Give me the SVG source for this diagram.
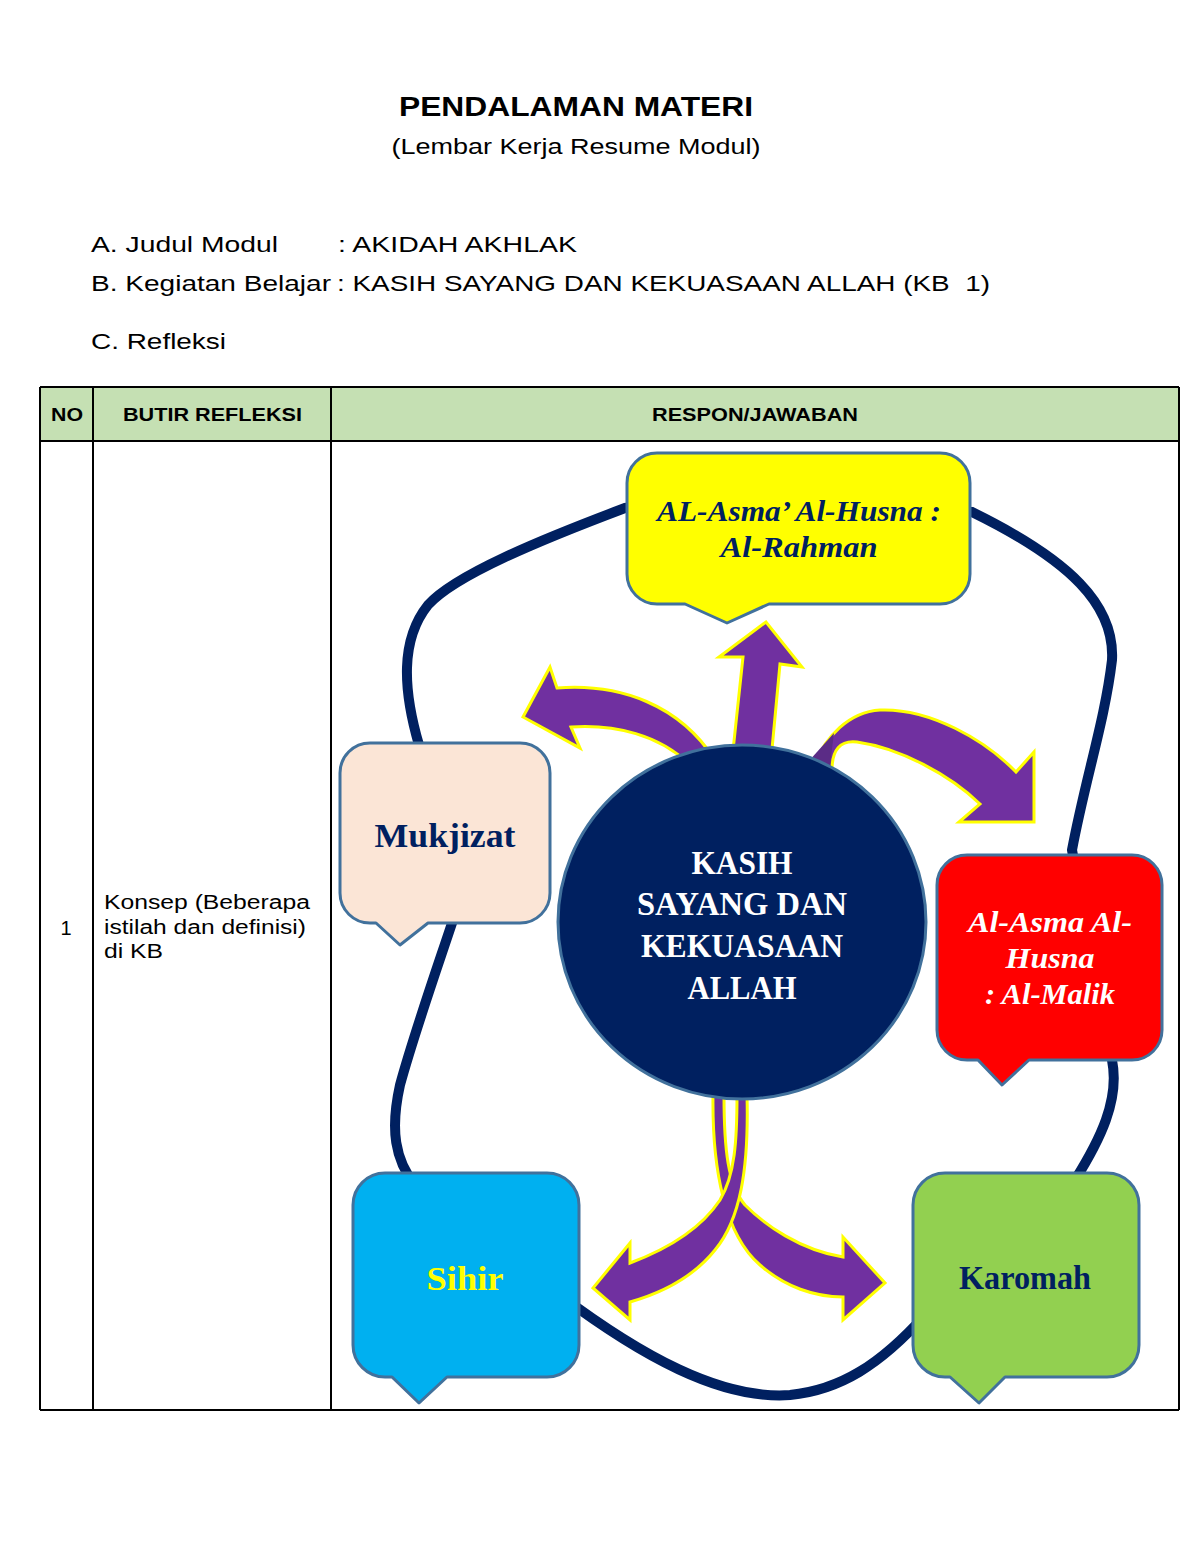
<svg xmlns="http://www.w3.org/2000/svg" width="1200" height="1553" viewBox="0 0 1200 1553">
<style>
.sans{font-family:"Liberation Sans",Arial,sans-serif;fill:#000}
.hd{font-family:"Liberation Sans",Arial,sans-serif;font-weight:bold;font-size:19px;fill:#000}
.ser{font-family:"Liberation Serif","DejaVu Serif",serif;font-weight:bold}
.bub{stroke:#41719C;stroke-width:3;stroke-linejoin:round}
.arr{fill:#7030A0;stroke:#FFFF00;stroke-width:3;stroke-linejoin:miter}
.tl{stroke:#000;stroke-width:2;fill:none}
</style>
<rect width="1200" height="1553" fill="#fff"/>
<g id="header-text">
<text class="sans" x="576" y="116" font-size="27" font-weight="bold" text-anchor="middle" textLength="354" lengthAdjust="spacingAndGlyphs">PENDALAMAN MATERI</text>
<text class="sans" x="576" y="154" font-size="22" text-anchor="middle" textLength="369" lengthAdjust="spacingAndGlyphs">(Lembar Kerja Resume Modul)</text>
<text class="sans" x="91" y="252" font-size="22" textLength="187" lengthAdjust="spacingAndGlyphs">A. Judul Modul</text>
<text class="sans" x="338" y="252" font-size="22" textLength="239" lengthAdjust="spacingAndGlyphs">: AKIDAH AKHLAK</text>
<text class="sans" x="91" y="291" font-size="22" textLength="240" lengthAdjust="spacingAndGlyphs">B. Kegiatan Belajar</text>
<text class="sans" x="337" y="291" font-size="22" textLength="653" lengthAdjust="spacingAndGlyphs">: KASIH SAYANG DAN KEKUASAAN ALLAH (KB &#160;1)</text>
<text class="sans" x="91" y="349" font-size="22" textLength="135" lengthAdjust="spacingAndGlyphs">C. Refleksi</text>
</g>
<g id="table">
<rect x="40" y="387" width="1139" height="54" fill="#C5E0B3"/>
<line class="tl" x1="40" y1="387" x2="1179" y2="387"/>
<line class="tl" x1="40" y1="441" x2="1179" y2="441" stroke-width="3"/>
<line class="tl" x1="40" y1="1410" x2="1179" y2="1410"/>
<line class="tl" x1="40" y1="387" x2="40" y2="1410"/>
<line class="tl" x1="93" y1="387" x2="93" y2="1410"/>
<line class="tl" x1="331" y1="387" x2="331" y2="1410"/>
<line class="tl" x1="1179" y1="387" x2="1179" y2="1410"/>
<text class="hd" x="67" y="421" text-anchor="middle" textLength="32" lengthAdjust="spacingAndGlyphs">NO</text>
<text class="hd" x="123" y="421" textLength="179" lengthAdjust="spacingAndGlyphs">BUTIR REFLEKSI</text>
<text class="hd" x="755" y="421" text-anchor="middle" textLength="206" lengthAdjust="spacingAndGlyphs">RESPON/JAWABAN</text>
<text class="sans" x="66" y="935" font-size="20" text-anchor="middle">1</text>
<text class="sans" x="104" y="909" font-size="20" textLength="206" lengthAdjust="spacingAndGlyphs">Konsep (Beberapa</text>
<text class="sans" x="104" y="934" font-size="20" textLength="202" lengthAdjust="spacingAndGlyphs">istilah dan definisi)</text>
<text class="sans" x="104" y="958" font-size="20" textLength="59" lengthAdjust="spacingAndGlyphs">di KB</text>
</g>
<g id="connectors">
<path d="M 700,500 L 625,508 C 540,540 455,575 428,605 C 400,640 403,690 419,745 L 440,830 L 458,905 C 440,960 415,1030 400,1085 C 390,1130 395,1160 415,1185 L 560,1295 C 640,1355 720,1400 790,1395 C 840,1390 880,1365 925,1315 L 1075,1180 C 1100,1140 1120,1100 1112,1060 L 1090,950 L 1072,850 C 1085,780 1105,720 1112,660 C 1115,605 1070,560 972,512 Z" fill="none" stroke="#002060" stroke-width="10"/>
<path class="arr" d="M 523,717 L 550,667 L 557,688 C 620,683 680,705 715,760 L 690,765 C 660,735 615,724 571,727 L 580,748 Z"/>
<path class="arr" d="M 732,760 L 743,657 L 719,657 L 766,622 L 802,667 L 780,664 L 771,760 Z"/>
<path class="arr" d="M 812,770 C 825,735 850,712 880,710 C 930,708 985,740 1016,772 L 1034,752 L 1034,822 L 959,822 L 980,804 C 950,775 900,748 857,742 C 840,740 832,750 832,770 Z"/>
<polygon points="808,762 834,733 830,765" fill="#5B2C86"/>
<path class="arr" d="M 713,1095 C 712,1170 725,1235 760,1265 C 785,1287 815,1297 843,1297 L 843,1320 L 885,1283 L 843,1237 L 843,1257 C 800,1250 765,1225 745,1205 C 728,1185 724,1150 724,1095 Z"/>
<path class="arr" d="M 747,1095 C 749,1170 740,1220 715,1250 C 695,1275 665,1292 630,1302 L 630,1320 L 593,1288 L 630,1243 L 630,1263 C 665,1250 700,1230 720,1200 C 735,1175 737,1140 737,1095 Z"/>
</g>
<g id="center">
<ellipse cx="742" cy="922" rx="184" ry="177" fill="#002060" stroke="#41719C" stroke-width="3"/>
<text class="ser" x="742" y="874" font-size="34" fill="#fff" text-anchor="middle" textLength="101" lengthAdjust="spacingAndGlyphs">KASIH</text>
<text class="ser" x="742" y="915" font-size="34" fill="#fff" text-anchor="middle" textLength="210" lengthAdjust="spacingAndGlyphs">SAYANG DAN</text>
<text class="ser" x="742" y="957" font-size="34" fill="#fff" text-anchor="middle" textLength="202" lengthAdjust="spacingAndGlyphs">KEKUASAAN</text>
<text class="ser" x="742" y="999" font-size="34" fill="#fff" text-anchor="middle" textLength="109" lengthAdjust="spacingAndGlyphs">ALLAH</text>
</g>
<g id="node-rahman">
<path class="bub" fill="#FFFF00" d="M 657,453 H 940 A 30,30 0 0 1 970,483 V 574 A 30,30 0 0 1 940,604 H 769 L 727,623 L 685,604 H 657 A 30,30 0 0 1 627,574 V 483 A 30,30 0 0 1 657,453 Z"/>
<text class="ser" x="799" y="521" font-size="30" font-style="italic" fill="#002060" text-anchor="middle" textLength="284" lengthAdjust="spacingAndGlyphs">AL-Asma’ Al-Husna :</text>
<text class="ser" x="799" y="557" font-size="30" font-style="italic" fill="#002060" text-anchor="middle" textLength="157" lengthAdjust="spacingAndGlyphs">Al-Rahman</text>
</g>
<g id="node-mukjizat">
<path class="bub" fill="#FBE5D6" d="M 370,743 H 520 A 30,30 0 0 1 550,773 V 893 A 30,30 0 0 1 520,923 H 428 L 400,945 L 376,923 H 370 A 30,30 0 0 1 340,893 V 773 A 30,30 0 0 1 370,743 Z"/>
<text class="ser" x="445" y="847" font-size="34" fill="#002060" text-anchor="middle" textLength="141" lengthAdjust="spacingAndGlyphs">Mukjizat</text>
</g>
<g id="node-malik">
<path class="bub" fill="#FF0000" d="M 967,855 H 1132 A 30,30 0 0 1 1162,885 V 1030 A 30,30 0 0 1 1132,1060 H 1029 L 1002,1085 L 978,1060 H 967 A 30,30 0 0 1 937,1030 V 885 A 30,30 0 0 1 967,855 Z"/>
<text class="ser" x="1050" y="932" font-size="30" font-style="italic" fill="#fff" text-anchor="middle" textLength="164" lengthAdjust="spacingAndGlyphs">Al-Asma Al-</text>
<text class="ser" x="1050" y="968" font-size="30" font-style="italic" fill="#fff" text-anchor="middle" textLength="89" lengthAdjust="spacingAndGlyphs">Husna</text>
<text class="ser" x="1050" y="1004" font-size="30" font-style="italic" fill="#fff" text-anchor="middle" textLength="130" lengthAdjust="spacingAndGlyphs">: Al-Malik</text>
</g>
<g id="node-sihir">
<path class="bub" fill="#00B0F0" d="M 385,1173 H 547 A 32,32 0 0 1 579,1205 V 1345 A 32,32 0 0 1 547,1377 H 447 L 419,1403 L 392,1377 H 385 A 32,32 0 0 1 353,1345 V 1205 A 32,32 0 0 1 385,1173 Z"/>
<text class="ser" x="465" y="1290" font-size="34" fill="#FFFF00" text-anchor="middle" textLength="77" lengthAdjust="spacingAndGlyphs">Sihir</text>
</g>
<g id="node-karomah">
<path class="bub" fill="#92D050" d="M 945,1173 H 1107 A 32,32 0 0 1 1139,1205 V 1345 A 32,32 0 0 1 1107,1377 H 1005 L 979,1403 L 950,1377 H 945 A 32,32 0 0 1 913,1345 V 1205 A 32,32 0 0 1 945,1173 Z"/>
<text class="ser" x="1025" y="1289" font-size="34" fill="#002060" text-anchor="middle" textLength="132" lengthAdjust="spacingAndGlyphs">Karomah</text>
</g>
</svg>
